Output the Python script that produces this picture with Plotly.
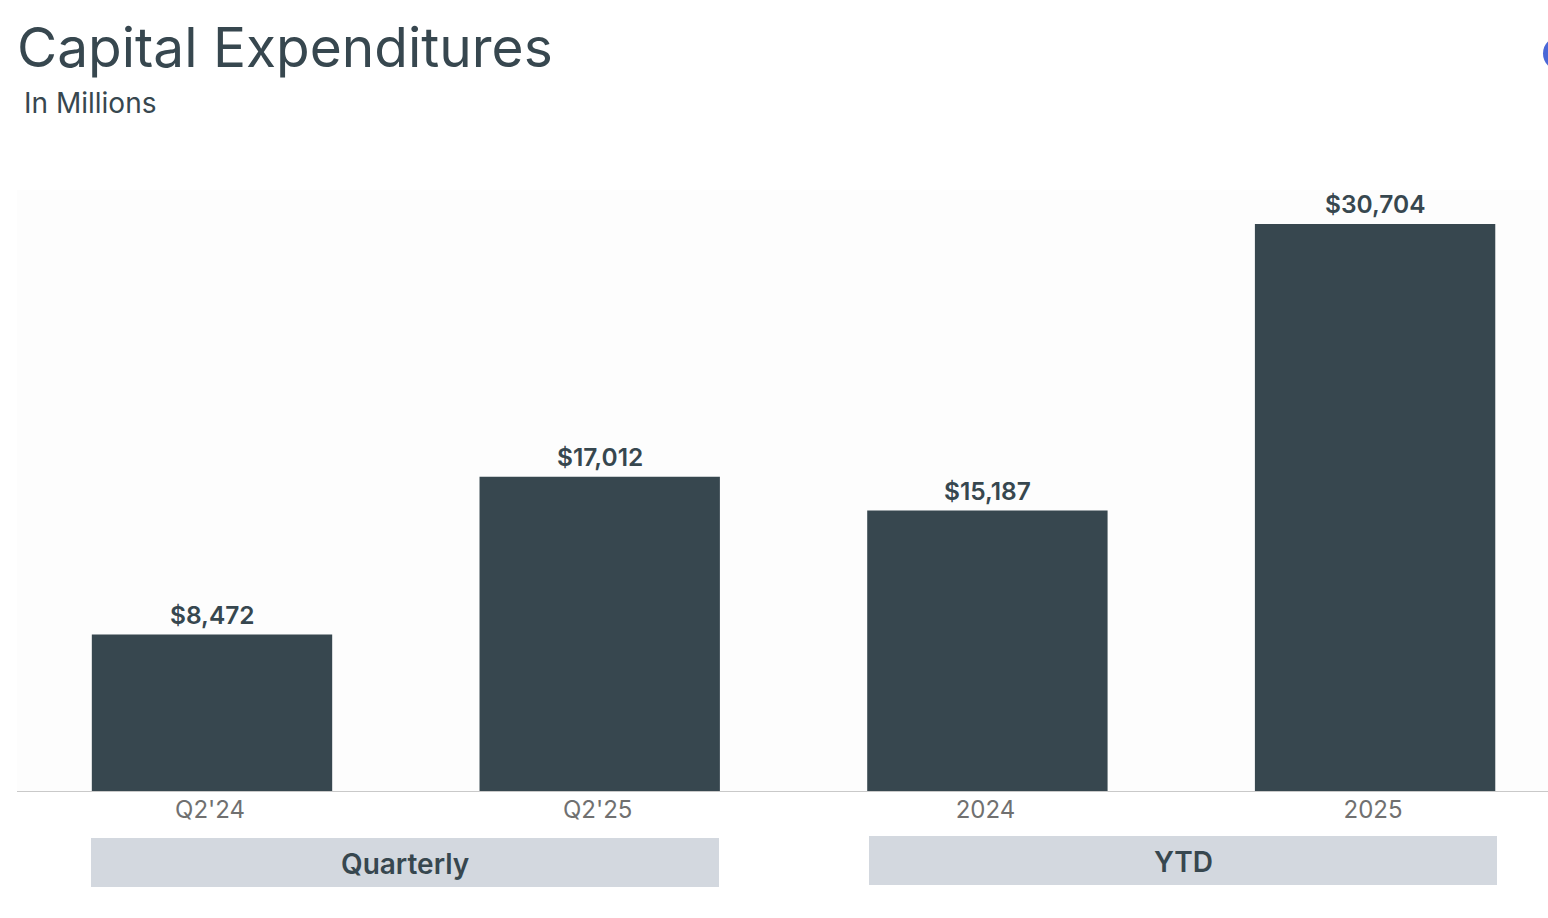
import plotly.graph_objects as go

categories = ["Q2'24", "Q2'25", "2024", "2025"]
capex = [8472, 17012, 15187, 30704]
bar_labels = ["$8,472", "$17,012", "$15,187", "$30,704"]

W = 1548
H = 918
DARK = "#37474f"

# plot area in page pixels
LEFT, RIGHT, TOP, BOTTOM = 17, 1548, 190, 791


# paper coords are relative to the plot area, not the page
def px(x):
    return (x - LEFT) / (RIGHT - LEFT)


def py(y):
    return (BOTTOM - y) / (BOTTOM - TOP)


fig = go.Figure()
fig.add_trace(go.Bar(
    x=categories,
    y=capex,
    width=0.62,
    marker=dict(color=DARK, line=dict(width=0)),
    hoverinfo="skip",
))

# group bands under the axis
bands = [("Quarterly", 91, 719, 838, 887), ("YTD", 869, 1497, 836, 885)]
shapes = []
annotations = []
for label, x0, x1, y0, y1 in bands:
    shapes.append(dict(type="rect", xref="paper", yref="paper", layer="below",
                       x0=px(x0), x1=px(x1), y0=py(y1), y1=py(y0),
                       fillcolor="#d3d8df", line=dict(width=0)))
    annotations.append(dict(text=label, xref="paper", yref="paper", showarrow=False,
                            x=px((x0 + x1) / 2), y=py((y0 + y1) / 2 + 2),
                            xanchor="center", yanchor="middle",
                            font=dict(family="Inter", size=28, color=DARK, weight=600)))

# value labels as annotations, textposition outside sat a few px too low
# x is the category index: "2024" as a string gets read as a number
for i, (val, label) in enumerate(zip(capex, bar_labels)):
    annotations.append(dict(text=label, x=i, y=val, showarrow=False,
                            xanchor="center", yanchor="middle", yshift=20,
                            font=dict(family="Inter", size=24.5, color=DARK, weight=600)))

# bit of a logo clipped by the right edge
shapes.append(dict(type="circle", xref="paper", yref="paper",
                   x0=px(1543), x1=px(1575), y0=py(70), y1=py(37),
                   fillcolor="#4a67d6", line=dict(width=0)))

annotations.append(dict(text="Capital Expenditures", xref="paper", yref="paper", showarrow=False,
                        x=px(15), y=py(47), xanchor="left", yanchor="middle",
                        font=dict(family="Inter", size=55, color=DARK)))
annotations.append(dict(text="In Millions", xref="paper", yref="paper", showarrow=False,
                        x=px(22), y=py(103), xanchor="left", yanchor="middle",
                        font=dict(family="Inter", size=28, color=DARK)))

fig.update_layout(
    width=W,
    height=H,
    autosize=False,
    showlegend=False,
    paper_bgcolor="white",
    plot_bgcolor="#fdfdfd",
    margin=dict(l=LEFT, r=W - RIGHT, t=TOP, b=H - BOTTOM, pad=0),
    shapes=shapes,
    annotations=annotations,
    xaxis=dict(
        type="category",
        range=[-0.503, 3.446],
        showgrid=False,
        zeroline=False,
        showline=True,
        linecolor="#c9c9c9",
        linewidth=1,
        ticks="",
        ticklabelstandoff=-3,
        ticklabelshift=-2,
        tickfont=dict(family="Inter", size=24, color="#707070"),
    ),
    yaxis=dict(
        range=[0, 32546],
        visible=False,
        showgrid=False,
        zeroline=False,
    ),
)

# page margin would shift and clip the figure
fig.write_html("out.html", post_script="document.body.style.margin='0';",
               config={"displayModeBar": False})
